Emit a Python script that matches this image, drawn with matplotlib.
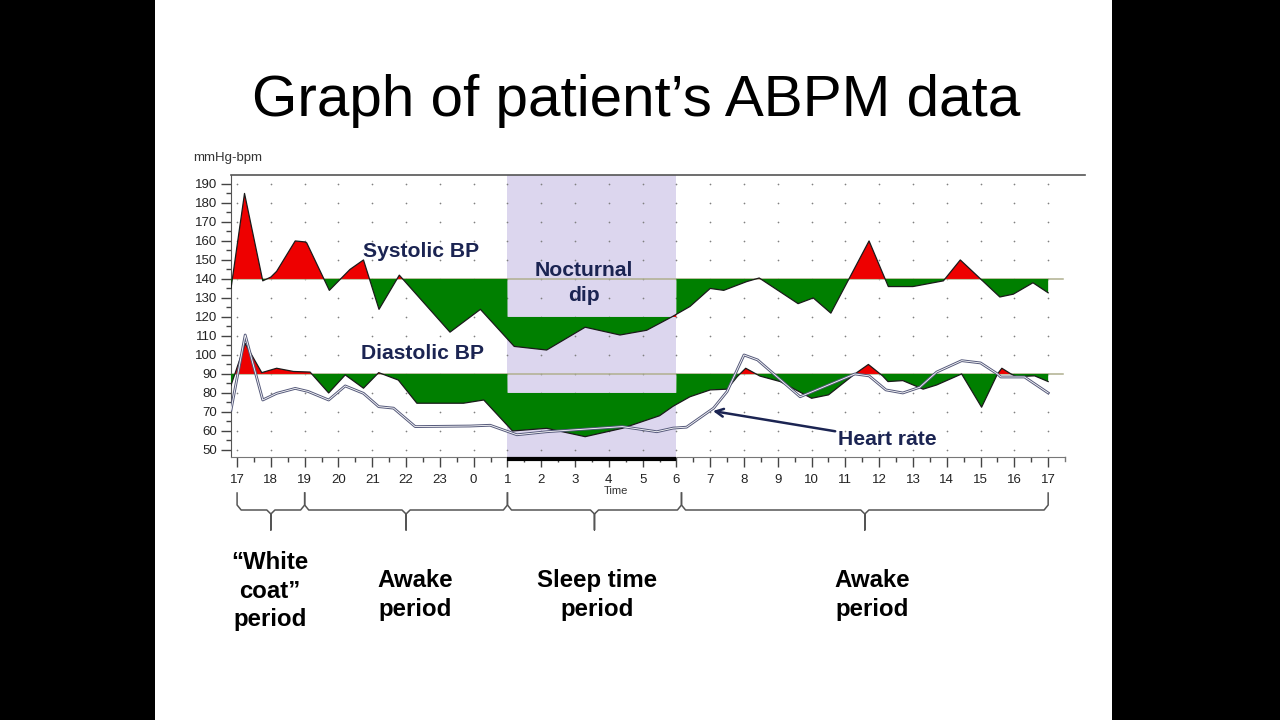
"""
ABPM chart: systolic / diastolic BP against day and night limits, with heart rate.
"""
import numpy as np
import matplotlib.pyplot as plt
from matplotlib import transforms
from matplotlib.patches import Rectangle

plt.rcParams['font.family'] = ['Liberation Sans', 'DejaVu Sans']

# --- Data (hours since 17:00) ---
sysHours = [-0.18, 0.22, 0.76, 1.0, 1.17, 1.72, 2.0, 2.06, 2.73, 3.34, 3.74, 4.2,
            4.8, 6.3, 7.2, 8.2, 9.16, 10.3, 11.33, 12.12, 12.86, 13.4, 14.0,
            14.4, 15.08, 15.45, 16.6, 17.05, 17.57, 18.7, 19.27, 20.0, 20.9,
            21.4, 22.57, 22.97, 23.55, 24.0]
sysValues = [135, 185, 139, 141, 144, 160, 159.5, 159, 134, 145, 150, 124,
             142, 112, 124, 104.5, 102.6, 114.6, 110.5, 113, 120, 125.5, 135,
             134, 138.6, 140.5, 127, 130, 122, 160, 136, 136, 139,
             150, 130.5, 132, 138, 132.7]

diaHours = [-0.18, 0.24, 0.73, 1.17, 1.67, 2.16, 2.71, 3.2, 3.74, 4.19, 4.77,
            5.32, 6.7, 7.3, 8.15, 9.16, 10.3, 11.4, 12.5, 12.9, 13.4, 14.0,
            14.5, 14.8, 15.05, 15.47, 16.07, 17.0, 17.5, 18.28, 18.68, 19.1,
            19.26, 19.7, 20.3, 20.7, 21.44, 22.03, 22.5, 22.63, 22.9, 23.06,
            23.6, 24.0]
diaValues = [84, 106, 90.7, 93, 91.3, 91, 80, 89.5, 82.5, 90.7, 86.8,
             74.6, 74.6, 76.3, 60, 61.4, 57, 61.4, 68, 73, 78, 81.6,
             82, 88.6, 93, 88.9, 86, 77.2, 79, 90, 95, 89,
             86, 86.5, 82, 84.2, 90, 72.5, 90, 93, 90, 88.6,
             89, 86]

hrHours = [-0.18, 0.24, 0.76, 1.17, 1.72, 2.1, 2.71, 3.2, 3.74, 4.19, 4.63,
           5.27, 6.9, 7.49, 8.28, 9.16, 11.4, 12.42, 12.9, 13.3, 14.1, 14.5,
           15.0, 15.4, 16.66, 18.28, 18.7, 19.2, 19.7, 20.2, 20.7, 21.44,
           22.0, 22.5, 22.6, 23.3, 24.0]
hrValues = [71, 110.5, 76.3, 79.8, 82.4, 80.8, 76.3, 83.7, 79.8, 72.8, 72,
            62.3, 62.6, 63, 58, 59.6, 62.3, 59.6, 61.5, 62, 72, 80.8,
            100, 97.4, 78, 90, 89, 81.6, 80, 83, 91, 97,
            95.8, 90, 88.4, 88.4, 80]

sleepStart, sleepEnd = 8, 13           # 1:00 to 6:00
sysDay, sysNight = 140, 120
diaDay, diaNight = 90, 80

hourTicks = np.arange(0, 25)
hourLabels = [str((17 + h) % 24) for h in hourTicks]
yTicks = np.arange(50, 191, 10)

periodEdges = [0, 2, 8, 13.15, 24]
periodLabels = ['\u201cWhite\ncoat\u201d\nperiod', 'Awake\nperiod',
                'Sleep time\nperiod', 'Awake\nperiod']
periodTextX = [0.98, 5.27, 10.65, 18.8]

navy = '#1b2452'
redFill = '#ee0000'
greenFill = '#007f00'


def limitCurve(xs, day, night):
    return np.where((xs >= sleepStart) & (xs <= sleepEnd), night, day)


# --- Figure and slide background ---
fig = plt.figure(figsize=(12.8, 7.2), dpi=100, facecolor='black')
fig.patches.append(Rectangle((155 / 1280, 0), (1112 - 155) / 1280, 1,
                             transform=fig.transFigure, facecolor='white',
                             edgecolor='none', zorder=-5))

fig.text(636 / 1280, 1 - 101 / 720, 'Graph of patient\u2019s ABPM data',
         ha='center', va='center', fontsize=42, color='black')
fig.text(228 / 1280, 1 - 158 / 720, 'mmHg-bpm', ha='center', va='center',
         fontsize=9.5, color='#333333')

ax = fig.add_axes([231 / 1280, 1 - 457 / 720, (1085 - 231) / 1280, (457 - 175) / 720])
ax.set_zorder(2)
ax.set_xlim(-0.18, 25.09)
ax.set_ylim(46.3, 194.7)
ax.set_facecolor('none')

# sleep shading
ax.axvspan(sleepStart, sleepEnd, color='#dcd6ee', zorder=0, lw=0)

# dotted grid
gx, gy = np.meshgrid(hourTicks, yTicks)
ax.scatter(gx.ravel(), gy.ravel(), s=1.5, color='#808080', zorder=1, lw=0)

# thresholds, fills, lines
xs = np.linspace(-0.18, 24.0, 6000)
for hours, vals, day, night in [(sysHours, sysValues, sysDay, sysNight),
                                (diaHours, diaValues, diaDay, diaNight)]:
    ax.plot([-0.18, 24.45], [day, day], color='#b0b090', lw=1.1, zorder=2)
    ys = np.interp(xs, hours, vals)
    lim = limitCurve(xs, day, night)
    ax.fill_between(xs, ys, lim, where=ys >= lim, interpolate=True,
                    color=redFill, lw=0, zorder=3)
    ax.fill_between(xs, ys, lim, where=ys <= lim, interpolate=True,
                    color=greenFill, lw=0, zorder=3)
    ax.plot(hours, vals, color='#1a1a1a', lw=0.9, zorder=4)

# heart rate (double line)
ax.plot(hrHours, hrValues, color='#55597a', lw=2.0, zorder=5)
ax.plot(hrHours, hrValues, color='white', lw=0.6, zorder=6)

# annotations
labelSize = 15.2
ax.text(5.44, 154.7, 'Systolic BP', ha='center', va='center', fontsize=labelSize,
        fontweight='bold', color=navy, zorder=7)
ax.text(5.5, 101, 'Diastolic BP', ha='center', va='center', fontsize=labelSize,
        fontweight='bold', color=navy, zorder=7)
ax.text(10.27, 137.9, 'Nocturnal\ndip', ha='center', va='center', fontsize=labelSize,
        fontweight='bold', color=navy, linespacing=1.4, zorder=7)
ax.annotate('Heart rate', xy=(14.08, 70.5), xytext=(17.78, 55.3),
            ha='left', va='center', fontsize=labelSize, fontweight='bold', color=navy,
            arrowprops=dict(arrowstyle='->', color=navy, lw=1.8,
                            mutation_scale=14, shrinkA=0, shrinkB=0),
            zorder=7)

# axes styling
ax.spines['right'].set_visible(False)
ax.spines['top'].set_color('#555555')
ax.spines['top'].set_linewidth(1.2)
ax.spines['left'].set_color('#555555')
ax.spines['bottom'].set_color('#777777')
ax.spines['bottom'].set_bounds(-0.18, 24.5)
ax.set_yticks(yTicks)
ax.set_yticks(np.arange(50, 191, 5), minor=True)
ax.set_xticks(hourTicks)
ax.set_xticklabels(hourLabels)
ax.set_xticks(np.arange(0.5, 24.5, 1), minor=True)
ax.tick_params(axis='both', which='major', length=7, width=1, color='#444444',
               labelsize=9.5, labelcolor='#222222', pad=3)
ax.tick_params(axis='x', which='major', pad=5)
ax.tick_params(axis='both', which='minor', length=3.5, width=1, color='#444444')
ax.plot([24.5, 24.5], [46.3, 44.3], color='#777777', lw=1, clip_on=False)

# sleep bar on time axis
ax.plot([sleepStart, sleepEnd], [46.3 - 1.0, 46.3 - 1.0], color='black',
        lw=3, solid_capstyle='butt', clip_on=False, zorder=8)
ax.text(11.2, 28.4, 'Time', ha='center', va='center', fontsize=8,
        color='#333333')

# braces and period labels
trans = transforms.blended_transform_factory(ax.transData, fig.transFigure)


def fy(px):
    return 1 - px / 720


for i in range(len(periodEdges) - 1):
    a, b = periodEdges[i], periodEdges[i + 1]
    m = (a + b) / 2
    bx = [a, a, a + 0.12, m - 0.12, m, m, m, m + 0.12, b - 0.12, b, b]
    by = [493, 505, 510, 510, 514, 530, 514, 510, 510, 505, 493]
    ax.plot(bx, [fy(v) for v in by], color='#555555', lw=1.1,
            transform=trans, clip_on=False)
    yc = 591 if i == 0 else 595
    ax.text(periodTextX[i], fy(yc), periodLabels[i], transform=trans,
            ha='center', va='center', fontsize=17.3, fontweight='bold',
            color='black', linespacing=1.3)

plt.savefig('out.png', dpi=100, facecolor='black')
plt.close()
